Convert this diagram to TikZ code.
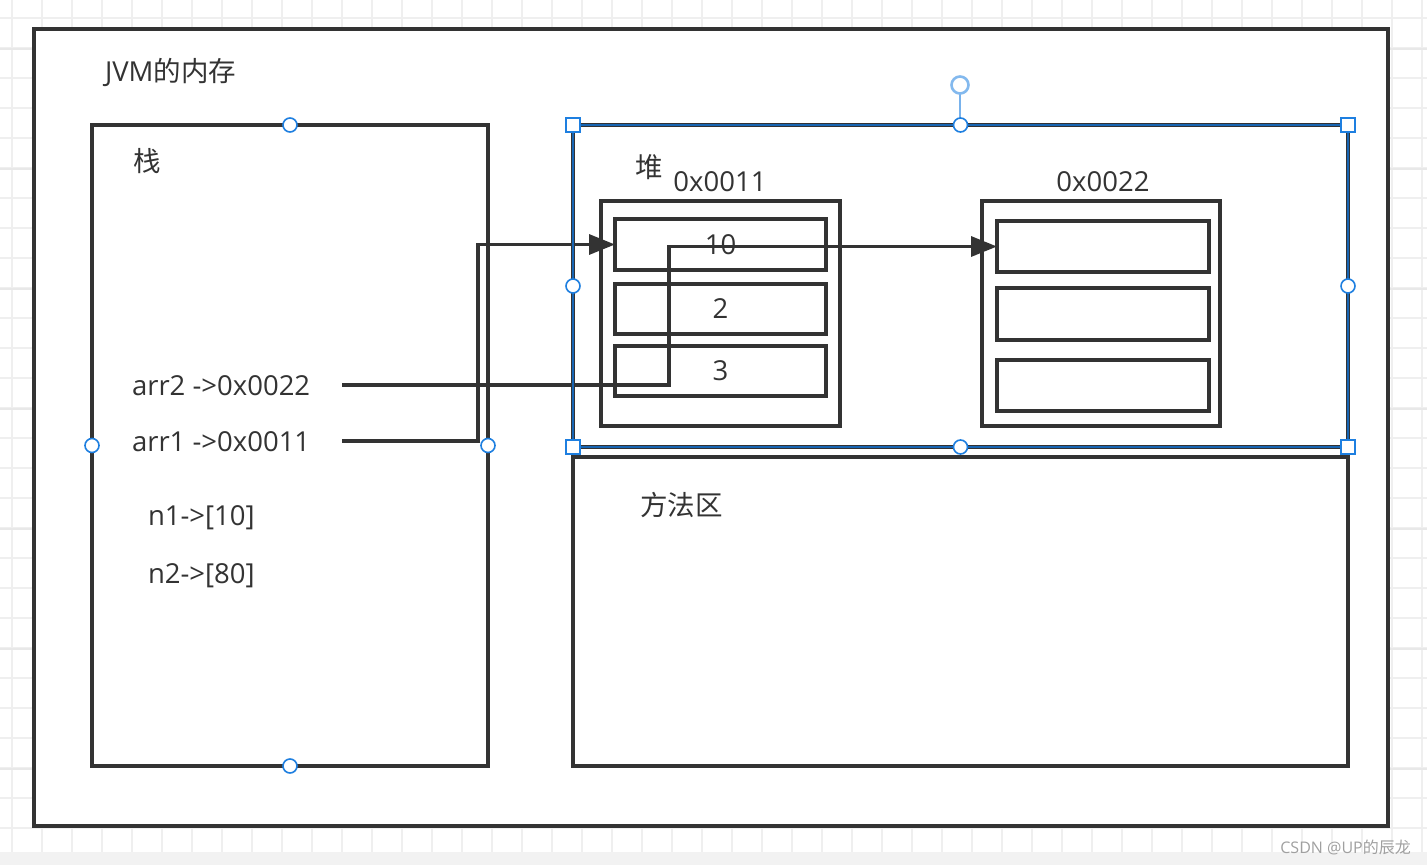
\documentclass[tikz,border=0pt]{standalone}
\usepackage{fontspec}
\setmainfont{Open Sans}
\newfontfamily\cjk{Noto Sans CJK SC}
\usetikzlibrary{arrows.meta}
\definecolor{ink}{HTML}{333333}
\definecolor{sel}{HTML}{1E7FE0}
\definecolor{gridc}{HTML}{EFEFEF}
\definecolor{gridm}{HTML}{E8E8E8}
\definecolor{strip}{HTML}{F2F2F2}
\definecolor{wm}{HTML}{A0A0A0}
\tikzset{
  box/.style={draw=ink, line width=3.3, inner sep=0, outer sep=0, anchor=north west},
  lbl/.style={text=ink, font=\fontsize{27.5}{31}\selectfont, inner sep=0, outer sep=0},
  conn/.style={draw=ink, line width=3.3, -{Triangle[length=26,width=20]}},
  hc/.style={circle, draw=sel, fill=white, line width=1.6, minimum size=14, inner sep=0},
  hs/.style={rectangle, draw=sel, fill=white, line width=1.6, minimum size=14, inner sep=0},
}
\begin{document}
\begin{tikzpicture}[x=1pt,y=-1pt]
\useasboundingbox (0,0) rectangle (1427,865);
\fill[white] (0,0) rectangle (1427,865);
\foreach \x in {12,42,...,1422} \draw[gridc, line width=1.5] (\x,0) -- (\x,852);
\foreach \y in {18,48,...,840} \draw[gridc, line width=1.5] (0,\y) -- (1427,\y);
\foreach \y in {49,169,...,840} \draw[gridm, line width=1.8] (0,\y) -- (1427,\y);
\fill[strip] (0,852) rectangle (1427,865);
\node[text=wm, font=\fontsize{16}{18}\selectfont, anchor=east, inner sep=0] (wmk) at (1411,847) {CSDN @UP{\cjk 的辰龙}};

% outer box
\node[box, fill=white, minimum width=1354, minimum height=797] (outer) at (34,29) {};
\node[lbl, anchor=west] (title) at (105,72) {JVM{\cjk 的内存}};

% stack
\node[box, minimum width=396, minimum height=641] (stack) at (92,125) {};
\node[lbl, anchor=west] (stk) at (133,161) {\cjk 栈};
\node[lbl, anchor=west] (a2) at (132,386) {arr2 ->0x0022};
\node[lbl, anchor=west] (a1) at (132,442) {arr1 ->0x0011};
\node[lbl, anchor=west] (n1) at (148,518) {n1->[10]};
\node[lbl, anchor=west] (n2) at (148,576) {n2->[80]};

% heap
\node[box, minimum width=775, minimum height=322] (heap) at (573,125) {};
\node[lbl, anchor=west] (hp) at (635,167) {\cjk 堆};
\node[box, minimum width=775, minimum height=309] (method) at (573,457) {};
\node[lbl, anchor=west] (mt) at (640,505) {\cjk 方法区};

% array 0x0011
\node[box, minimum width=239, minimum height=225] (arrA) at (601,201) {};
\node[lbl] (la) at (720,182) {0x0011};
\node[box, minimum width=211, minimum height=51] (c10) at (615,219) {};
\node[lbl] at (c10.center) {10};
\node[box, minimum width=211, minimum height=50] (c2) at (615,284) {};
\node[lbl] at (c2.center) {2};
\node[box, minimum width=211, minimum height=50] (c3) at (615,346) {};
\node[lbl] at (c3.center) {3};

% array 0x0022
\node[box, minimum width=238, minimum height=225] (arrB) at (982,201) {};
\node[lbl] (lb) at (1103,182) {0x0022};
\node[box, minimum width=212, minimum height=51] (d1) at (997,221) {};
\node[box, minimum width=212, minimum height=52] (d2) at (997,288) {};
\node[box, minimum width=212, minimum height=51] (d3) at (997,360) {};

% connectors
\coordinate (s1) at (342,441);
\coordinate (s2) at (342,385);
\draw[conn] (s1) -- ++(136,0) |- (c10.west);
\draw[conn] (s2) -- ++(327,0) |- (d1.west);

% selection of heap
\draw[sel!80!black, line width=1.2] (heap.north west) rectangle (heap.south east);
\draw[sel!60, line width=1.6] (960,94) -- (960,118);
\node[circle, draw=sel!55, fill=white, line width=2.6, minimum size=17, inner sep=0] (rot) at (960,85) {};
\foreach \p in {north west, north east, south west, south east}
  \node[hs] at (heap.\p) {};
\foreach \p in {north, south, west, east}
  \node[hc] at (heap.\p) {};
\foreach \p in {north, south, west, east}
  \node[hc] at (stack.\p) {};
\end{tikzpicture}
\end{document}
